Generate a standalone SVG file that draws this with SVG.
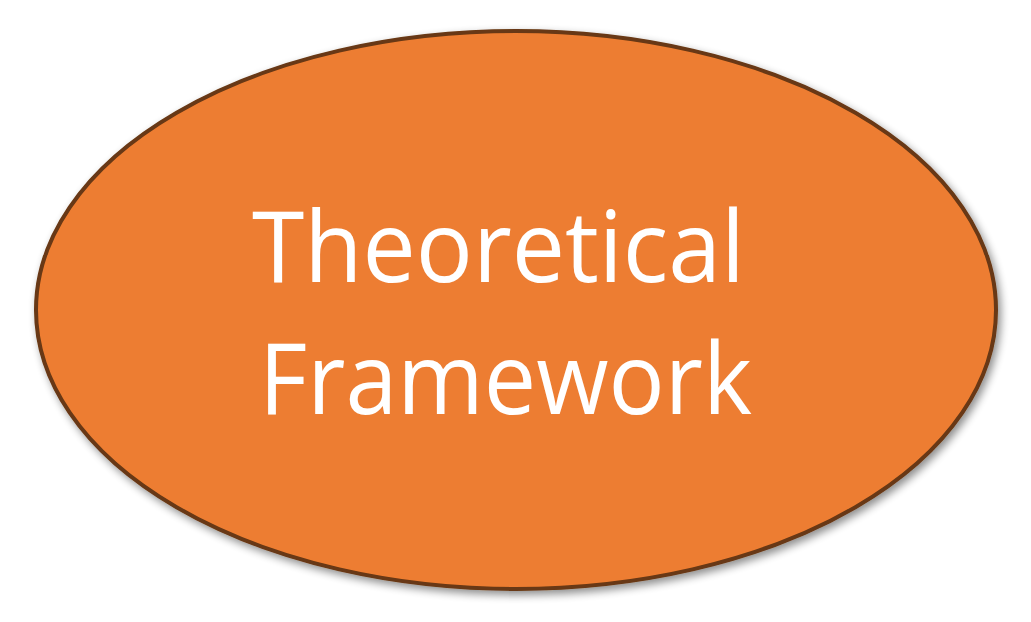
<svg xmlns="http://www.w3.org/2000/svg" width="1031" height="622" viewBox="0 0 1031 622">
<defs>
<filter id="sh" x="-10%" y="-10%" width="120%" height="125%">
<feGaussianBlur in="SourceAlpha" stdDeviation="4"/>
<feOffset dx="3" dy="4" result="b"/>
<feComponentTransfer><feFuncA type="linear" slope="0.45"/></feComponentTransfer>
<feMerge><feMergeNode/><feMergeNode in="SourceGraphic"/></feMerge>
</filter>
<style>
.lbl{font-family:"Open Sans","Noto Sans","Liberation Sans",sans-serif;font-size:98px;fill:#ffffff}
</style>
</defs>
<rect width="1031" height="622" fill="#ffffff"/>
<g id="node-theoretical-framework">
<ellipse cx="516" cy="310" rx="480" ry="279" fill="#ED7D31" stroke="#673713" stroke-width="4" filter="url(#sh)"/>
<text class="lbl" x="252" y="282" textLength="493" lengthAdjust="spacingAndGlyphs">Theoretical</text>
<text class="lbl" x="259" y="414" textLength="493" lengthAdjust="spacingAndGlyphs">Framework</text>
</g>
<g id="connectors"/>
</svg>
